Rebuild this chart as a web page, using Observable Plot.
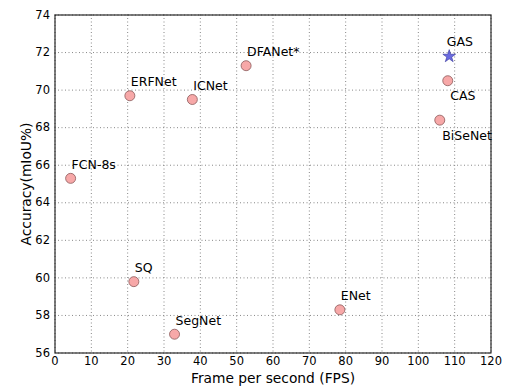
<!DOCTYPE html>
<html>
<head>
<meta charset="utf-8">
<script src="https://cdn.jsdelivr.net/npm/d3@7"></script>
<script src="https://cdn.jsdelivr.net/npm/@observablehq/plot@0.6"></script>
<style>
  html, body { margin: 0; padding: 0; background: #fff; }
  svg { font-family: "DejaVu Sans", sans-serif; }
</style>
</head>
<body>
<div id="chart"></div>
<script>
const methods = ["FCN-8s", "ERFNet", "ICNet", "DFANet*", "GAS", "CAS", "BiSeNet", "SQ", "SegNet", "ENet"];
const fps     = [4.3, 20.6, 37.8, 52.6, 108.5, 108.1, 105.9, 21.7, 32.9, 78.4];
const miou    = [65.3, 69.7, 69.5, 71.3, 71.8, 70.5, 68.4, 59.8, 57.0, 58.3];
const kind    = ["other", "other", "other", "other", "ours", "other", "other", "other", "other", "other"];
const labelSide = ["above", "above", "above", "above", "above", "below", "below", "above", "above", "above"];
const xTicks = [0, 10, 20, 30, 40, 50, 60, 70, 80, 90, 100, 110, 120];
const yTicks = [56, 58, 60, 62, 64, 66, 68, 70, 72, 74];
const xLabel = "Frame per second (FPS)";
const yLabel = "Accuracy(mIoU%)";

const data = methods.map((m, i) => ({name: m, fps: fps[i], miou: miou[i], kind: kind[i], side: labelSide[i]}));

const chart = Plot.plot({
  width: 514,
  height: 389,
  marginLeft: 54.5,
  marginRight: 23.5,
  marginTop: 14.5,
  marginBottom: 36.5,
  style: {fontFamily: "DejaVu Sans, sans-serif", fontSize: "11.5px", color: "#000", background: "#fff"},
  x: {domain: [0, 120]},
  y: {domain: [56, 74]},
  marks: [
    Plot.gridX(xTicks, {stroke: "#888", strokeOpacity: 1, strokeDasharray: "1,2.5"}),
    Plot.gridY(yTicks, {stroke: "#888", strokeOpacity: 1, strokeDasharray: "1,2.5"}),
    Plot.axisX(xTicks, {tickSize: 0, tickPadding: 4, fontSize: 11.5, label: null}),
    Plot.axisY(yTicks, {tickSize: 0, tickPadding: 5, fontSize: 11.5, label: null}),
    Plot.text([xLabel], {frameAnchor: "bottom", dy: 25.5, lineAnchor: "middle", text: d => d, fontSize: 13.8, fill: "#000"}),
    Plot.text([yLabel], {frameAnchor: "left", dx: -28.5, rotate: -90, textAnchor: "middle", lineAnchor: "middle", text: d => d, fontSize: 13.8, fill: "#000"}),
    Plot.frame({stroke: "#000", strokeWidth: 1}),
    Plot.dot(data.filter(d => d.kind === "other"), {x: "fps", y: "miou", r: 5, fill: "#f7a8a8", stroke: "#8a5a5a", strokeWidth: 0.8}),
    Plot.dot(data.filter(d => d.kind === "ours"), {x: "fps", y: "miou", r: 4, symbol: "star", fill: "#6b6be0", stroke: "#33339a", strokeWidth: 0.6}),
    Plot.text(data.filter(d => d.side === "above" && d.kind === "other"), {x: "fps", y: "miou", text: "name", textAnchor: "start", dx: 1, dy: -13.5, fontSize: 12.5, fill: "#000"}),
    Plot.text(data.filter(d => d.side === "above" && d.kind === "ours"), {x: "fps", y: "miou", text: "name", textAnchor: "start", dx: -2.5, dy: -14, fontSize: 12.5, fill: "#000"}),
    Plot.text(data.filter(d => d.side === "below"), {x: "fps", y: "miou", text: "name", textAnchor: "start", dx: 2.5, dy: 15.5, fontSize: 12.5, fill: "#000"})
  ]
});
document.getElementById("chart").appendChild(chart);
</script>
</body>
</html>
